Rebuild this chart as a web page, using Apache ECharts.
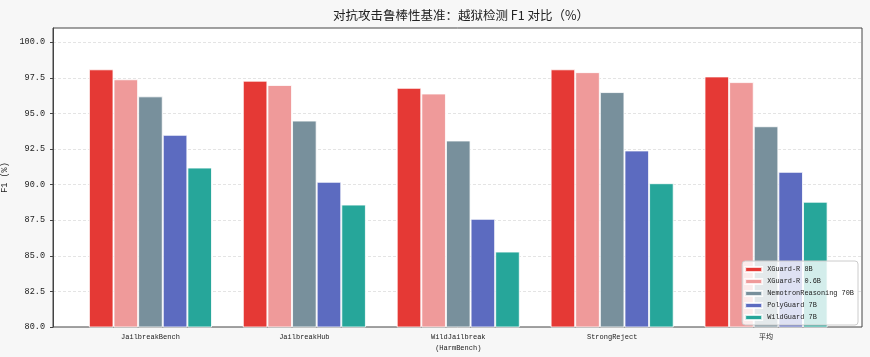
<!DOCTYPE html>
<html>
<head>
<meta charset="utf-8">
<script src="https://cdn.jsdelivr.net/npm/echarts@6/dist/echarts.min.js"></script>
<style>
html,body{margin:0;padding:0;background:#f7f7f7;}
#chart{width:870px;height:357px;}
</style>
</head>
<body>
<div id="chart"></div>
<script>
const categories = ['JailbreakBench', 'JailbreakHub', 'WildJailbreak\n(HarmBench)', 'StrongReject', '平均'];
const seriesNames = ['XGuard-R 8B', 'XGuard-R 0.6B', 'NemotronReasoning 70B', 'PolyGuard 7B', 'WildGuard 7B'];
const xguard8b   = [98.1, 97.3, 96.8, 98.1, 97.6];
const xguard06b  = [97.4, 97.0, 96.4, 97.9, 97.2];
const nemotron   = [96.2, 94.5, 93.1, 96.5, 94.1];
const polyguard  = [93.5, 90.2, 87.6, 92.4, 90.9];
const wildguard  = [91.2, 88.6, 85.3, 90.1, 88.8];
const yTicks = [80.0, 82.5, 85.0, 87.5, 90.0, 92.5, 95.0, 97.5, 100.0];
const yMax = 101;
const colors = ['#e53935', '#ef9a9a', '#78909c', '#5c6bc0', '#26a69a'];

const allData = [xguard8b, xguard06b, nemotron, polyguard, wildguard];
const mono = '"Liberation Mono", "Noto Sans CJK SC", monospace';

const chart = echarts.init(document.getElementById('chart'), null, {renderer: 'canvas'});
chart.setOption({
  backgroundColor: '#f7f7f7',
  animation: false,
  color: colors,
  title: {
    text: '对抗攻击鲁棒性基准：越狱检测 F1 对比（%）',
    left: 456, textAlign: 'center', top: 4,
    textStyle: {fontSize: 12.5, fontWeight: 'normal', color: '#222', fontFamily: '"Noto Sans CJK SC", sans-serif'}
  },
  grid: [
    {left: 53, right: 8, top: 28, bottom: 30, show: true, backgroundColor: '#fff', borderColor: '#444', borderWidth: 1,
      containLabel: false, outerBoundsMode: 'none'},
    {left: 73.5, right: 27, top: 28, bottom: 30, containLabel: false, outerBoundsMode: 'none'}
  ],
  legend: {
    orient: 'vertical', right: 12, bottom: 32,
    data: seriesNames,
    icon: 'rect', itemWidth: 17, itemHeight: 5, itemGap: 5,
    backgroundColor: 'rgba(255,255,255,0.8)', borderColor: '#ccc', borderWidth: 1, borderRadius: 3,
    padding: [5, 4, 4, 2],
    textStyle: {fontSize: 6.9, color: '#222', fontFamily: mono, padding: [0, 0, 0, 0]}
  },
  xAxis: [
    {type: 'value', gridIndex: 0, min: 0, max: 1, show: false},
    {
      type: 'category', gridIndex: 1, data: categories,
      axisLine: {show: false},
      axisTick: {alignWithLabel: true, length: 3, lineStyle: {color: '#444'}},
      axisLabel: {fontSize: 7, color: '#222', fontFamily: mono, margin: 5, lineHeight: 11}
    }
  ],
  yAxis: [
    {
      type: 'value', gridIndex: 0, min: yTicks[0], max: yMax, interval: 2.5, position: 'left', offset: 0,
      name: 'F1 (%)', nameLocation: 'middle', nameGap: 35,
      nameTextStyle: {fontSize: 8.5, color: '#222', fontFamily: mono},
      axisLine: {show: true, lineStyle: {color: '#444', width: 1}},
      axisTick: {show: true, length: 3, lineStyle: {color: '#444'}},
      axisLabel: {fontSize: 8.5, color: '#222', fontFamily: mono, margin: 8, showMaxLabel: false,
        formatter: v => (yTicks.indexOf(v) >= 0 ? v.toFixed(1) : '')},
      splitLine: {show: true, showMinLine: false, showMaxLine: false, lineStyle: {color: '#ddd', type: [3, 2], width: 0.8}}
    },
    {type: 'value', gridIndex: 1, min: yTicks[0], max: yMax, show: false, splitLine: {show: false}}
  ],
  series: seriesNames.map((n, i) => ({
    name: n, type: 'bar', data: allData[i], xAxisIndex: 1, yAxisIndex: 1,
    barGap: '0%', barCategoryGap: '20%',
    itemStyle: {color: colors[i], borderColor: 'rgba(255,255,255,0.8)', borderWidth: 1}
  }))
});
</script>
</body>
</html>
